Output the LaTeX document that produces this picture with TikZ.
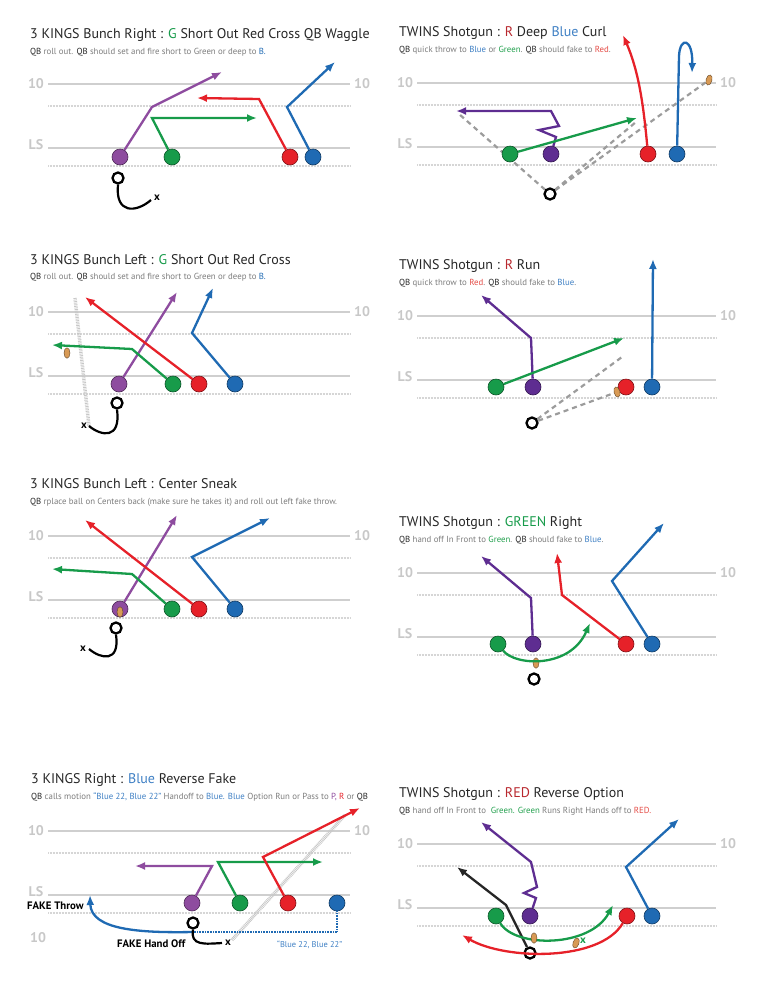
\documentclass[tikz,border=0pt]{standalone}
\usepackage{fontspec}
\setmainfont{PT Sans}
\usetikzlibrary{arrows.meta,shapes.geometric}

\definecolor{kpurple}{HTML}{8E4C9F}
\definecolor{tpurple}{HTML}{5E2D91}
\definecolor{kgreen}{HTML}{179B4A}
\definecolor{kred}{HTML}{E62129}
\definecolor{kblue}{HTML}{1F6AB3}
\definecolor{tred}{HTML}{B8282E}
\definecolor{tblue}{HTML}{3F80C4}
\definecolor{sgreen}{HTML}{23A04E}
\definecolor{sred}{HTML}{E44B45}
\definecolor{subgray}{HTML}{7C7C7C}
\definecolor{fieldgray}{HTML}{CFCFCF}
\definecolor{dotgray}{HTML}{D6D6D6}
\definecolor{labelgray}{HTML}{C8C8C8}
\definecolor{fakegray}{HTML}{9C9C9C}
\definecolor{ballbrown}{HTML}{D89A55}

\pgfdeclarelayer{bg}
\pgfsetlayers{bg,main}

\newcommand{\qbw}{\textcolor{black!85}{QB}}

% field: name, x left, x right, y of the 10 line
\newcommand{\fieldlines}[4]{%
  \begin{pgfonlayer}{bg}
  \draw[yard] (#2,#4) -- (#3,#4);
  \draw[yarddots] (#2,{#4+22}) -- (#3,{#4+22});
  \draw[yard] (#2,{#4+64}) -- (#3,{#4+64});
  \draw[yarddots] (#2,{#4+82}) -- (#3,{#4+82});
  \end{pgfonlayer}
  \node[yardlbl] (#1tenL) at ({#2-12},#4) {10};
  \node[yardlbl] (#1tenR) at ({#3+12},#4) {10};
  \node[yardlbl] (#1ls) at ({#2-12},{#4+61}) {LS};
}

\begin{document}
\begin{tikzpicture}[
  x=1pt, y=-1pt, >=Latex,
  yard/.style={fieldgray, line width=2.6pt},
  yarddots/.style={dotgray, line width=1.6pt, dash pattern=on 0.5pt off 1pt},
  yardlbl/.style={text=labelgray, font=\bfseries\fontsize{14}{14}\selectfont, inner sep=0pt},
  player/.style={circle, minimum size=16pt, inner sep=0pt, line width=0.6pt,
                 fill=#1, draw=#1!55!black},
  qb/.style={circle, draw=black, line width=2.3pt, fill=white, minimum size=11pt, inner sep=0pt},
  ball/.style={ellipse, fill=ballbrown, draw=ballbrown!45!black, line width=0.4pt,
               minimum width=6pt, minimum height=10.5pt, inner sep=0pt},
  route/.style={line width=2.3pt, -{Latex[length=10pt,width=8pt]}},
  walk/.style={black, line width=2.2pt},
  fake/.style={fakegray, line width=2.2pt, dash pattern=on 5pt off 4pt},
  throwline/.style={black!22, line width=3.5pt, dash pattern=on 0.8pt off 0.8pt},
  motion/.style={kblue, line width=1.6pt, dash pattern=on 0.8pt off 0.8pt},
  xmark/.style={font=\bfseries\fontsize{11}{11}\selectfont, inner sep=0pt},
  title/.style={anchor=base west, inner sep=0pt, text=black!85, font=\fontsize{14}{16}\selectfont},
  sub/.style={anchor=base west, inner sep=0pt, text=subgray, font=\fontsize{8.8}{10}\selectfont},
  note/.style={anchor=base west, inner sep=0pt, font=\bfseries\fontsize{10.8}{12}\selectfont}
]
\useasboundingbox (0,0) rectangle (768,994);

% ---------- 3 KINGS Bunch Right
\node[title] (k1title) at (30,38) {3 KINGS Bunch Right : \textcolor{kgreen}{G} Short Out Red Cross QB Waggle};
\node[sub] (k1sub) at (30,54) {\qbw{} roll out. \qbw{} should set and fire short to Green or deep to \textcolor{kblue}{B.}};
\fieldlines{k1}{48}{350}{84}
\node[player=kpurple] (k1pur) at (120,157) {};
\node[player=kgreen] (k1grn) at (172,157) {};
\node[player=kred] (k1red) at (290,157) {};
\node[player=kblue] (k1blu) at (313,157) {};
\node[qb] (k1qb) at (118,178) {};
\coordinate (k1x) at (151,200);
\node[xmark] (k1xl) at (157,198) {x};
\coordinate (k1purE) at (222,72); \coordinate (k1grnE) at (257,118);
\coordinate (k1redE) at (197,98); \coordinate (k1bluE) at (335,62);
\draw[walk] (k1qb.south) .. controls (115,214) and (136,213) .. (k1x);
\draw[route, kpurple] (k1pur) -- (152,107) -- (k1purE);
\draw[route, kgreen] (k1grn) -- (152,118) -- (k1grnE);
\draw[route, kred] (k1red) -- (259,99) -- (k1redE);
\draw[route, kblue] (k1blu) -- (287,107) -- (k1bluE);

% ---------- TWINS Shotgun : R Deep Blue Curl
\node[title] (t1title) at (399,36) {TWINS Shotgun : \textcolor{tred}{R} Deep \textcolor{tblue}{Blue} Curl};
\node[sub] (t1sub) at (399,52) {\qbw{} quick throw to \textcolor{tblue}{Blue} or \textcolor{sgreen}{Green}. \qbw{} should fake to \textcolor{sred}{Red}.};
\fieldlines{t1}{417}{716}{83}
\node[player=kgreen] (t1grn) at (510,154) {};
\node[player=tpurple] (t1pur) at (551,154) {};
\node[player=kred] (t1red) at (648,154) {};
\node[player=kblue] (t1blu) at (677,154) {};
\node[qb] (t1qb) at (550,194) {};
\node[ball, rotate=-15] (t1ball) at (709,80) {};
\coordinate (t1f1) at (459,114); \coordinate (t1f2) at (636,122);
\coordinate (t1purE) at (456,111); \coordinate (t1grnE) at (637,118);
\coordinate (t1redE) at (623,35); \coordinate (t1bluE) at (692,73);
\begin{pgfonlayer}{bg}
\draw[fake] (t1qb) -- (t1f1);
\draw[fake] (t1qb) -- (t1f2);
\draw[fake] (t1qb) -- (t1ball);
\end{pgfonlayer}
\draw[route, tpurple] (t1pur) -- (556,137) -- (539,130) -- (559,126) -- (551,111) -- (t1purE);
\draw[route, kgreen] (t1grn) -- (t1grnE);
\draw[route, kred] (t1red) .. controls (643,100) and (638,70) .. (t1redE);
\draw[route, kblue] (t1blu) -- (679,56) .. controls (680,36) and (693,38) .. (t1bluE);

% ---------- 3 KINGS Bunch Left : G Short Out Red Cross
\node[title] (k2title) at (30,264) {3 KINGS Bunch Left : \textcolor{kgreen}{G} Short Out Red Cross};
\node[sub] (k2sub) at (30,279) {\qbw{} roll out. \qbw{} should set and fire short to Green or deep to \textcolor{kblue}{B.}};
\fieldlines{k2}{48}{350}{312}
\node[player=kpurple] (k2pur) at (119,384) {};
\node[player=kgreen] (k2grn) at (173,384) {};
\node[player=kred] (k2red) at (199,384) {};
\node[player=kblue] (k2blu) at (235,384) {};
\node[qb] (k2qb) at (117,403) {};
\coordinate (k2x) at (89,426);
\node[xmark] (k2xl) at (84,426) {x};
\coordinate (k2t) at (75,298);
\node[ball] (k2ball) at (67,353) {};
\coordinate (k2purE) at (177,292); \coordinate (k2redE) at (85,297);
\coordinate (k2grnE) at (52,345); \coordinate (k2bluE) at (213,288);
\begin{pgfonlayer}{bg}
\draw[throwline] (k2t) -- (k2x);
\end{pgfonlayer}
\draw[walk] (k2qb.south) .. controls (121,440) and (101,436) .. (k2x);
\draw[route, kpurple] (k2pur) -- (k2purE);
\draw[route, kred] (k2red) -- (k2redE);
\draw[route, kgreen] (k2grn) -- (132,349) -- (k2grnE);
\draw[route, kblue] (k2blu) -- (192,333) -- (k2bluE);

% ---------- TWINS Shotgun : R Run
\node[title] (t2title) at (399,269) {TWINS Shotgun : \textcolor{tred}{R} Run};
\node[sub] (t2sub) at (399,285) {\qbw{} quick throw to \textcolor{sred}{Red}. \qbw{} should fake to \textcolor{tblue}{Blue}.};
\fieldlines{t2}{417}{716}{316}
\node[player=kgreen] (t2grn) at (496,387) {};
\node[player=tpurple] (t2pur) at (533,387) {};
\node[player=kred] (t2red) at (626,387) {};
\node[player=kblue] (t2blu) at (652,387) {};
\node[qb] (t2qb) at (532,423) {};
\node[ball, rotate=15] (t2ball) at (617,392) {};
\coordinate (t2f1) at (622,357);
\coordinate (t2purE) at (481,295); \coordinate (t2grnE) at (624,338);
\coordinate (t2bluE) at (653,259);
\begin{pgfonlayer}{bg}
\draw[fake] (t2qb) -- (t2f1);
\draw[fake] (t2qb) -- (t2ball);
\end{pgfonlayer}
\draw[route, tpurple] (t2pur) -- (531,338) -- (t2purE);
\draw[route, kgreen] (t2grn) -- (t2grnE);
\draw[route, kblue] (t2blu) -- (t2bluE);

% ---------- 3 KINGS Bunch Left : Center Sneak
\node[title] (k3title) at (30,488) {3 KINGS Bunch Left : Center Sneak};
\node[sub] (k3sub) at (30,504) {\qbw{} rplace ball on Centers back (make sure he takes it) and roll out left fake throw.};
\fieldlines{k3}{48}{350}{536}
\node[player=kpurple] (k3pur) at (120,609) {};
\node[player=kgreen] (k3grn) at (172,609) {};
\node[player=kred] (k3red) at (199,609) {};
\node[player=kblue] (k3blu) at (235,609) {};
\node[ball] (k3ball) at (120,612) {};
\node[qb] (k3qb) at (116,628) {};
\coordinate (k3x) at (89,649);
\node[xmark] (k3xl) at (83,649) {x};
\coordinate (k3purE) at (177,515); \coordinate (k3redE) at (85,520);
\coordinate (k3grnE) at (52,569); \coordinate (k3bluE) at (270,518);
\draw[walk] (k3qb.south) .. controls (120,663) and (101,659) .. (k3x);
\draw[route, kpurple] (k3pur) -- (k3purE);
\draw[route, kred] (k3red) -- (k3redE);
\draw[route, kgreen] (k3grn) -- (132,574) -- (k3grnE);
\draw[route, kblue] (k3blu) -- (192,557) -- (k3bluE);

% ---------- TWINS Shotgun : GREEN Right
\node[title] (t3title) at (399,526) {TWINS Shotgun : \textcolor{kgreen}{GREEN} Right};
\node[sub] (t3sub) at (399,542) {\qbw{} hand off In Front to \textcolor{sgreen}{Green}. \qbw{} should fake to \textcolor{tblue}{Blue}.};
\fieldlines{t3}{417}{716}{573}
\node[player=kgreen] (t3grn) at (498,644) {};
\node[player=tpurple] (t3pur) at (533,644) {};
\node[player=kred] (t3red) at (626,644) {};
\node[player=kblue] (t3blu) at (652,644) {};
\node[ball] (t3ball) at (536,663) {};
\node[qb] (t3qb) at (534,679) {};
\coordinate (t3purE) at (481,556); \coordinate (t3redE) at (557,553);
\coordinate (t3bluE) at (664,523); \coordinate (t3grnE) at (590,623);
\draw[route, tpurple] (t3pur) -- (531,598) -- (t3purE);
\draw[route, kred] (t3red) -- (562,595) -- (t3redE);
\draw[route, kblue] (t3blu) -- (612,581) -- (t3bluE);
\draw[route, kgreen] (t3grn) .. controls (515,666) and (570,669) .. (t3grnE);

% ---------- 3 KINGS Right : Blue Reverse Fake
\node[title] (k4title) at (31,783) {3 KINGS Right : \textcolor{tblue}{Blue} Reverse Fake};
\node[sub] (k4sub) at (31,799) {\qbw{} calls motion \textcolor{tblue}{“Blue 22, Blue 22”} Handoff to \textcolor{tblue}{Blue. Blue} Option Run or Pass to \textcolor{kpurple}{P,} \textcolor{kred}{R} or \qbw};
\fieldlines{k4}{48}{350}{831}
\node[yardlbl] (k4tenB) at (38,938) {10};
\node[player=kpurple] (k4pur) at (192,903) {};
\node[player=kgreen] (k4grn) at (240,903) {};
\node[player=kred] (k4red) at (288,903) {};
\node[player=kblue] (k4blu) at (337,903) {};
\node[qb] (k4qb) at (193,923) {};
\coordinate (k4m) at (193,932);
\coordinate (k4x) at (222,943);
\node[xmark] (k4xl) at (228,943) {x};
\coordinate (k4tA) at (232,940); \coordinate (k4tB) at (345,815);
\coordinate (k4purE) at (135,866); \coordinate (k4grnE) at (323,862);
\coordinate (k4redE) at (360,808); \coordinate (k4bluE) at (90,895);
\begin{pgfonlayer}{bg}
\draw[throwline] (k4tA) -- (k4tB);
\end{pgfonlayer}
\draw[motion] (k4blu) -- (337,932) -- (k4m);
\draw[route, kblue] (k4m) .. controls (140,933) and (91,930) .. (k4bluE);
\draw[walk] (k4qb.south) .. controls (190,946) and (205,944) .. (k4x);
\draw[route, kpurple] (k4pur) -- (212,866) -- (k4purE);
\draw[route, kgreen] (k4grn) -- (218,862) -- (k4grnE);
\draw[route, kred] (k4red) -- (263,857) -- (k4redE);
\node[note] (k4throw) at (27,909) {FAKE Throw};
\node[note] (k4hand) at (117,947) {FAKE Hand Off};
\node[sub, text=tblue, font=\fontsize{8.4}{10}\selectfont] (k4call) at (277,947) {“Blue 22, Blue 22”};

% ---------- TWINS Shotgun : RED Reverse Option
\node[title] (t4title) at (399,797) {TWINS Shotgun : \textcolor{tred}{RED} Reverse Option};
\node[sub] (t4sub) at (399,813) {\qbw{} hand off In Front to \ \textcolor{sgreen}{Green. Green} Runs Right Hands off to \textcolor{sred}{RED.}};
\fieldlines{t4}{417}{716}{844}
\node[player=kgreen] (t4grn) at (496,916) {};
\node[player=tpurple] (t4pur) at (530,916) {};
\node[player=kred] (t4red) at (627,916) {};
\node[player=kblue] (t4blu) at (652,916) {};
\node[qb] (t4qb) at (530,953) {};
\coordinate (t4purE) at (481,822); \coordinate (t4blkE) at (457,867);
\coordinate (t4bluE) at (679,819); \coordinate (t4grnE) at (613,905);
\coordinate (t4redE) at (462,935);
\draw[route, tpurple] (t4pur) -- (536,898) -- (524,893) -- (537,887) -- (531,862) -- (t4purE);
\draw[route, black!85] (t4qb) -- (506,905) -- (t4blkE);
\draw[route, kblue] (t4blu) -- (626,867) -- (t4bluE);
\draw[route, kgreen] (t4grn) .. controls (515,948) and (590,948) .. (t4grnE);
\draw[route, kred] (t4red) .. controls (600,962) and (505,960) .. (t4redE);
\node[ball] (t4ball1) at (534,938) {};
\node[ball, rotate=-20] (t4ball2) at (576,943) {};
\node[xmark, text=kgreen] (t4gx) at (583,941) {x};
\end{tikzpicture}
\end{document}
